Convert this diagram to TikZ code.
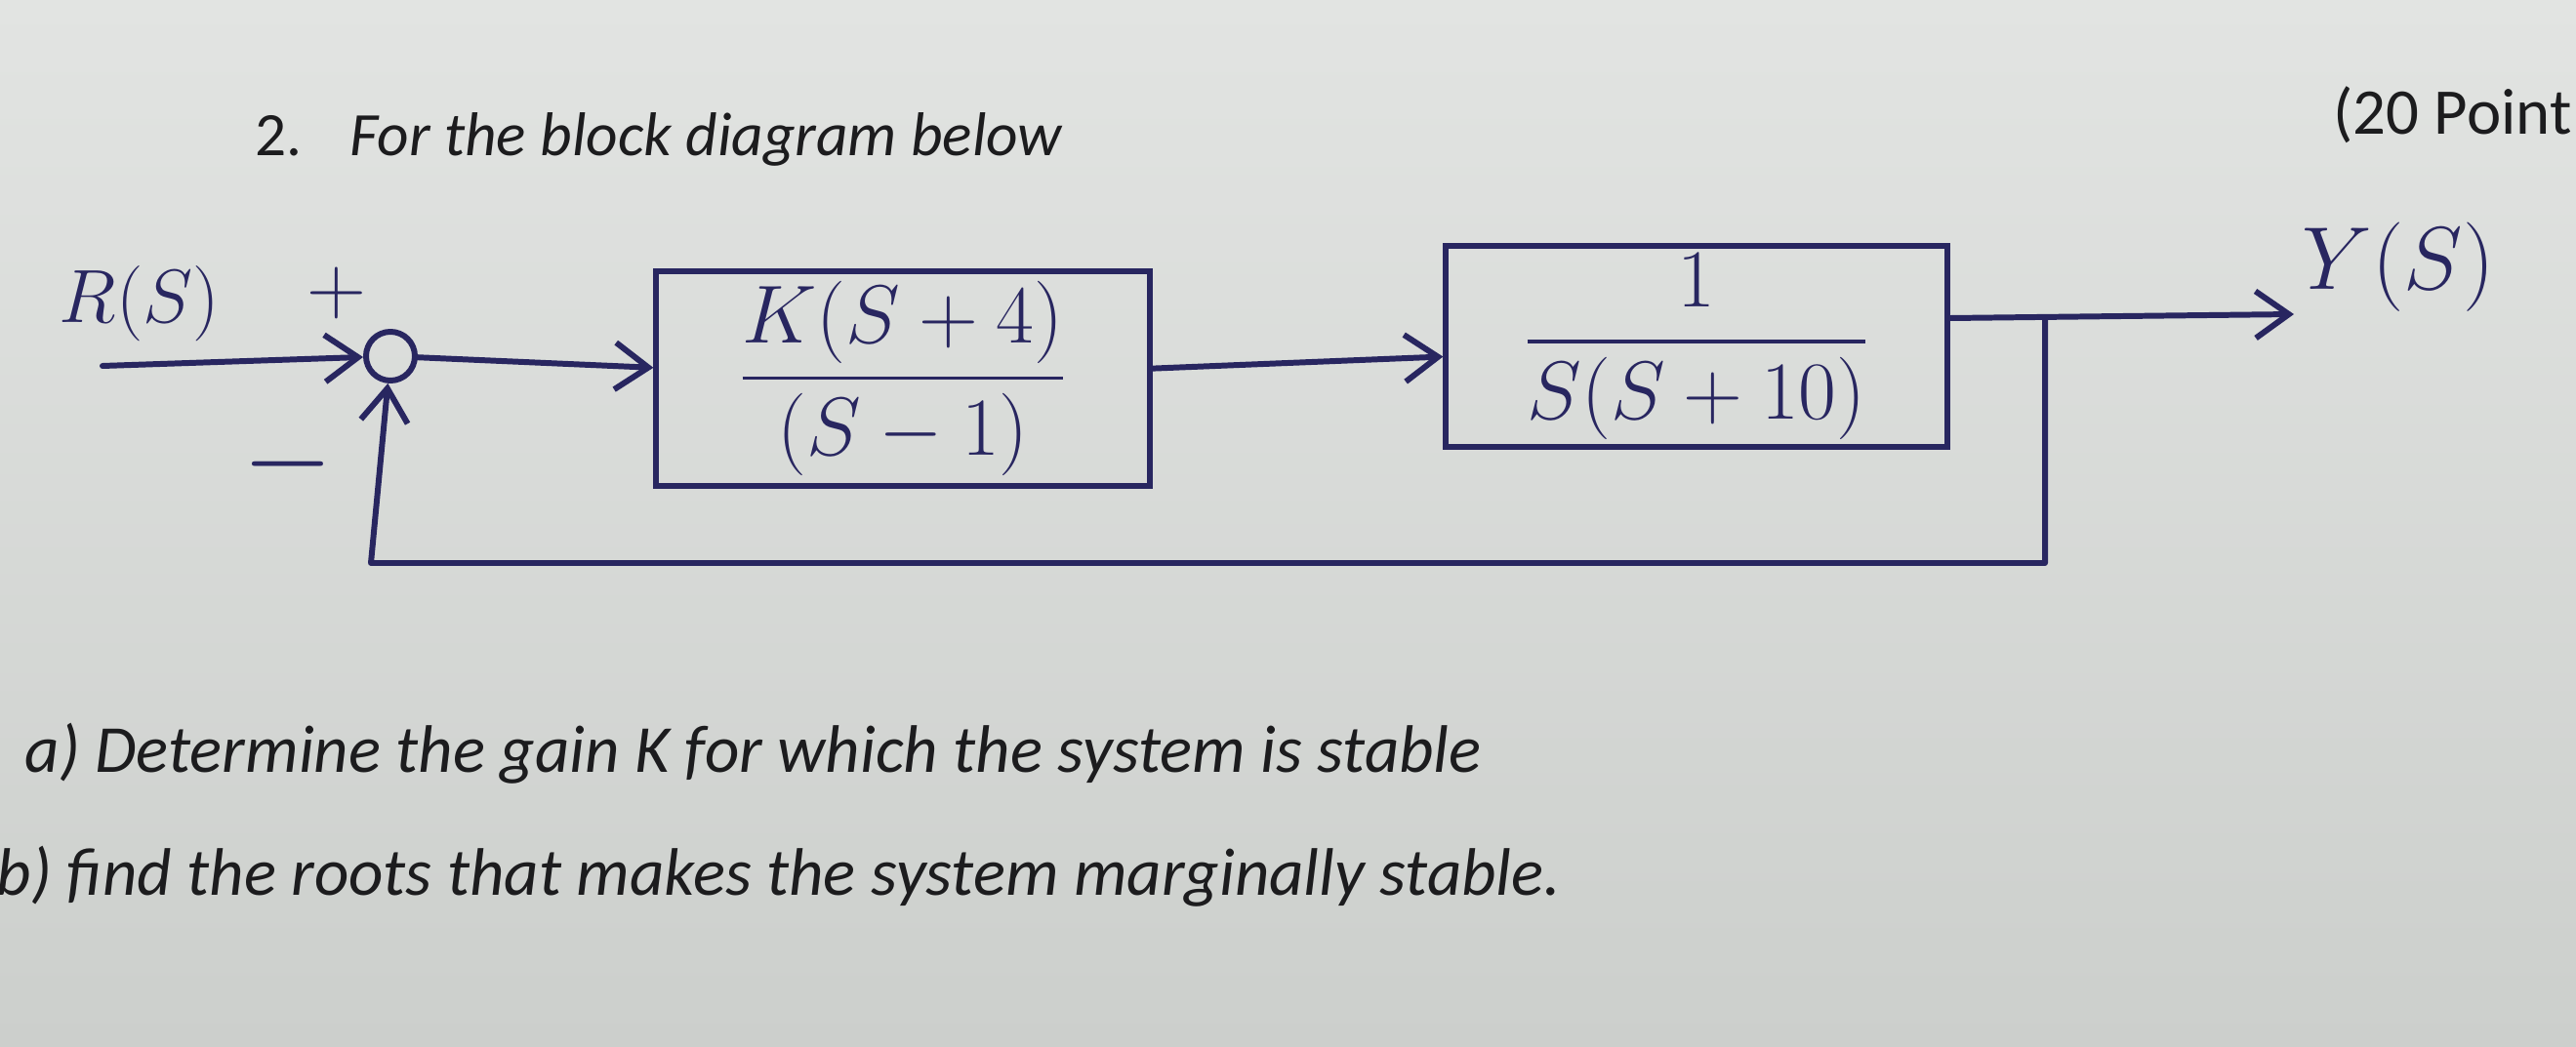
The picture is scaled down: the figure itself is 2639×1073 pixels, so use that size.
\documentclass[tikz,border=0pt]{standalone}
\usepackage{fix-cm}
\usepackage{amsmath}
\usepackage{fontspec}
\newfontfamily\printfont{Carlito}
\usetikzlibrary{arrows.meta,positioning}
\definecolor{ink}{RGB}{40,38,96}
\definecolor{paperhi}{RGB}{226,228,226}
\definecolor{paperlo}{RGB}{204,207,204}
\definecolor{print}{RGB}{28,28,30}

\begin{document}
\begin{tikzpicture}[x=0.01cm,y=-0.01cm,
    wire/.style={ink,line width=1.7pt,line cap=round,line join=round},
    sig/.style={wire,-{Straight Barb[length=3.4mm,width=4.8mm]}},
    hand/.style={text=ink,inner sep=0pt},
    txt/.style={text=print,inner sep=0pt,font=\printfont\fontsize{18}{22}\selectfont},
    qtxt/.style={txt,font=\printfont\itshape\fontsize{19.6}{24}\selectfont}]
  \tikzstyle{block}=[draw=ink,line width=1.7pt,rectangle,inner sep=0pt,
                     font=\fontsize{24}{28}\selectfont,text=ink]

  % paper
  \useasboundingbox (0,0) rectangle (2639,1073);
  \shade[top color=paperhi,bottom color=paperlo] (0,0) rectangle (2639,1073);
  \clip (0,0) rectangle (2639,1073);

  % question text
  \node[txt,anchor=base west]  (qnum)  at (261,160)  {2.};
  \node[txt,anchor=base west]  (qtext) at (358,160)  {\itshape For the block diagram below};
  \node[txt,anchor=base west,font=\printfont\fontsize{19}{23}\selectfont] (pts) at (2390,138) {(20 Point};
  \node[qtxt,anchor=base west] (parta) at (25,791)   {a) Determine the gain K for which the system is stable};
  \node[qtxt,anchor=base west] (partb) at (-4,917)   {b) find the roots that makes the system marginally stable.};

  % blocks
  \node[block,minimum width=5.05cm,minimum height=2.19cm] (b1) at (925,388)  {$\dfrac{K(S+4)}{(S-1)}$};
  \node[block,minimum width=5.13cm,minimum height=2.06cm] (b2) at (1738,355) {$\dfrac{1}{S(S+10)}$};
  \node[circle,draw,wire,minimum size=0.5cm,inner sep=0pt] (sum) at (400,365) {};

  % hand labels
  \node[hand,font=\fontsize{22}{26}\selectfont] (rlab)  at (143,311)  {$R(S)$};
  \node[hand,font=\fontsize{24}{28}\selectfont] (plus)  at (345,300)  {$+$};
  \node[hand,font=\fontsize{34}{40}\selectfont] (minus) at (295,476)  {$-$};
  \node[hand,font=\fontsize{26}{30}\selectfont] (ylab)  at (2457,274) {$Y(S)$};

  \coordinate (rin)  at (105,375);
  \coordinate (tap)  at (2095,326);
  \coordinate (yout) at (2350,322);
  \coordinate (fb)   at (380,577);

  \path[sig]
  (rin)            edge (sum)
  (sum)            edge (b1)
  (b1)             edge (b2)
  (b2.east |- tap) edge (yout);
  \draw[sig] (tap) |- (fb) -- (sum);
\end{tikzpicture}
\end{document}
